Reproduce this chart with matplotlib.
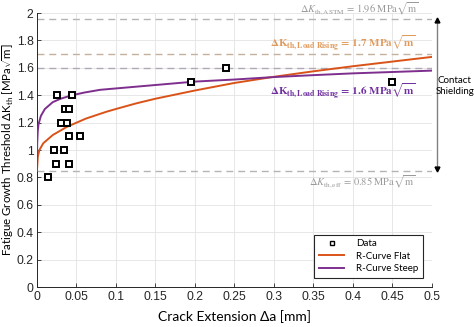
import matplotlib
matplotlib.use("Agg")
import matplotlib.pyplot as plt
from matplotlib.lines import Line2D

# ---- data ----
data_x = [0.025, 0.044, 0.035, 0.040, 0.030, 0.038, 0.040, 0.054, 0.021, 0.034,
          0.024, 0.040, 0.014, 0.195, 0.240, 0.450]
data_y = [1.4, 1.4, 1.3, 1.3, 1.2, 1.2, 1.1, 1.1, 1.0, 1.0,
          0.9, 0.9, 0.8, 1.5, 1.6, 1.5]

flat_x = [0, 0.001, 0.003, 0.008, 0.02, 0.038, 0.05, 0.062, 0.075, 0.088, 0.1,
          0.125, 0.15, 0.175, 0.2, 0.25, 0.3, 0.35, 0.4, 0.45, 0.5]
flat_y = [0.85, 0.95, 1.0, 1.05, 1.11, 1.17, 1.20, 1.23, 1.255, 1.28, 1.30,
          1.34, 1.375, 1.405, 1.435, 1.49, 1.535, 1.575, 1.612, 1.646, 1.68]

steep_x = [0, 0.0003, 0.001, 0.002, 0.005, 0.01, 0.02, 0.03, 0.044, 0.06, 0.08,
           0.1, 0.15, 0.2, 0.25, 0.3, 0.35, 0.4, 0.45, 0.5]
steep_y = [0.85, 1.05, 1.14, 1.19, 1.25, 1.30, 1.35, 1.375, 1.40, 1.42, 1.44,
           1.45, 1.475, 1.50, 1.515, 1.533, 1.547, 1.56, 1.57, 1.58]

ref_levels = [1.96, 1.7, 1.6, 0.85]
ref_colors = ["#b4b4b4", "#c4b09c", "#b0a8b6", "#b4b4b4"]

xticks = [0, 0.05, 0.1, 0.15, 0.2, 0.25, 0.3, 0.35, 0.4, 0.45, 0.5]
xtick_labels = ["0", "0.05", "0.1", "0.15", "0.2", "0.25", "0.3", "0.35", "0.4", "0.45", "0.5"]
yticks = [0, 0.2, 0.4, 0.6, 0.8, 1.0, 1.2, 1.4, 1.6, 1.8, 2.0]
ytick_labels = ["0", "0.2", "0.4", "0.6", "0.8", "1", "1.2", "1.4", "1.6", "1.8", "2"]

ORANGE = "#d95319"
PURPLE = "#7e2f8e"
LABEL_FONT = ["Lato", "DejaVu Sans"]

plt.rcParams["mathtext.fontset"] = "custom"
plt.rcParams["mathtext.rm"] = "Lato"
plt.rcParams["mathtext.it"] = "Lato:italic"
plt.rcParams["mathtext.bf"] = "Lato:bold"

fig = plt.figure(figsize=(4.74, 3.27), dpi=100)
ax = fig.add_axes([0.078, 0.122, 0.833, 0.838])

ax.set_xlim(0, 0.5)
ax.set_ylim(0, 2)
ax.set_xticks(xticks)
ax.set_xticklabels(xtick_labels, fontfamily="Liberation Sans", fontsize=8.7, color="#262626")
ax.set_yticks(yticks)
ax.set_yticklabels(ytick_labels, fontfamily="Liberation Sans", fontsize=8.7, color="#262626")
ax.tick_params(direction="in", length=3, width=0.6, colors="#262626", pad=3)
ax.tick_params(axis="y", pad=2.5)
ax.grid(True, color="#e3e3e3", lw=0.6)
ax.set_axisbelow(True)
for s in ["top", "right"]:
    ax.spines[s].set_visible(False)
for s in ["left", "bottom"]:
    ax.spines[s].set_color("#262626")
    ax.spines[s].set_linewidth(0.7)

for lvl, c in zip(ref_levels, ref_colors):
    ax.axhline(lvl, color=c, lw=1.0, dashes=(5, 3.5), zorder=1)

ax.plot(flat_x, flat_y, color=ORANGE, lw=1.4, zorder=3)
ax.plot(steep_x, steep_y, color=PURPLE, lw=1.4, zorder=3)
ax.plot(data_x, data_y, ls="none", marker="s", ms=4.5, mfc="white", mec="black",
        mew=1.4, zorder=4)

# annotations
ax.text(0.483, 2.032, r"$\Delta K_{\mathrm{th,ASTM}}\, =\, 1.96\ \mathrm{MPa}\sqrt{\mathrm{m}}$",
        math_fontfamily="stix", fontsize=7.5, color="#9a9a9a", ha="right", va="center",
        clip_on=False)
ax.text(0.480, 1.78, r"$\mathbf{\Delta K_{th,Load\ Rising}\, =\, 1.7\ MPa\sqrt{m}}$",
        math_fontfamily="stix", fontsize=8, color="#e09a5c", ha="right", va="center")
ax.text(0.480, 1.43, r"$\mathbf{\Delta K_{th,Load\ Rising}\, =\, 1.6\ MPa\sqrt{m}}$",
        math_fontfamily="stix", fontsize=8, color="#7030a0", ha="right", va="center")
ax.text(0.480, 0.77, r"$\Delta K_{\mathrm{th,eff}}\, =\, 0.85\ \mathrm{MPa}\sqrt{\mathrm{m}}$",
        math_fontfamily="stix", fontsize=7.5, color="#9a9a9a", ha="right", va="center")

# contact shielding arrow
ax.plot([0.506, 0.506], [0.86, 1.95], color="#808080", lw=1.0, clip_on=False)
ax.plot([0.506], [1.95], marker="^", color="black", ms=3.5, clip_on=False)
ax.plot([0.506], [0.86], marker="v", color="black", ms=3.5, clip_on=False)
ax.text(0.529, 1.47, "Contact\nShielding", fontfamily=LABEL_FONT, fontsize=7,
        ha="center", va="center", linespacing=1.25, clip_on=False)

ax.set_xlabel("Crack Extension Δa [mm]", fontfamily=LABEL_FONT, fontsize=10,
              labelpad=5)
ax.set_ylabel(r"Fatigue Growth Threshold $\Delta\mathrm{K}_{\mathrm{th}}$ [MPa$\sqrt{\mathrm{m}}$]",
              fontfamily=LABEL_FONT, fontsize=8.3)
ax.yaxis.set_label_coords(-0.054, 0.5)

handles = [
    Line2D([], [], ls="none", marker="s", ms=3, mfc="white", mec="black", mew=1.0),
    Line2D([], [], color=ORANGE, lw=1.4),
    Line2D([], [], color=PURPLE, lw=1.4),
]
leg = ax.legend(handles, ["Data", "R-Curve Flat", "R-Curve Steep"],
                loc="lower right", bbox_to_anchor=(0.99, 0.015), fancybox=False,
                framealpha=1, edgecolor="#262626", prop={"family": LABEL_FONT, "size": 7},
                handlelength=2.6, borderpad=0.5, labelspacing=0.35, handletextpad=1.2)
leg.get_frame().set_linewidth(0.8)

fig.savefig("out.png", dpi=100)
